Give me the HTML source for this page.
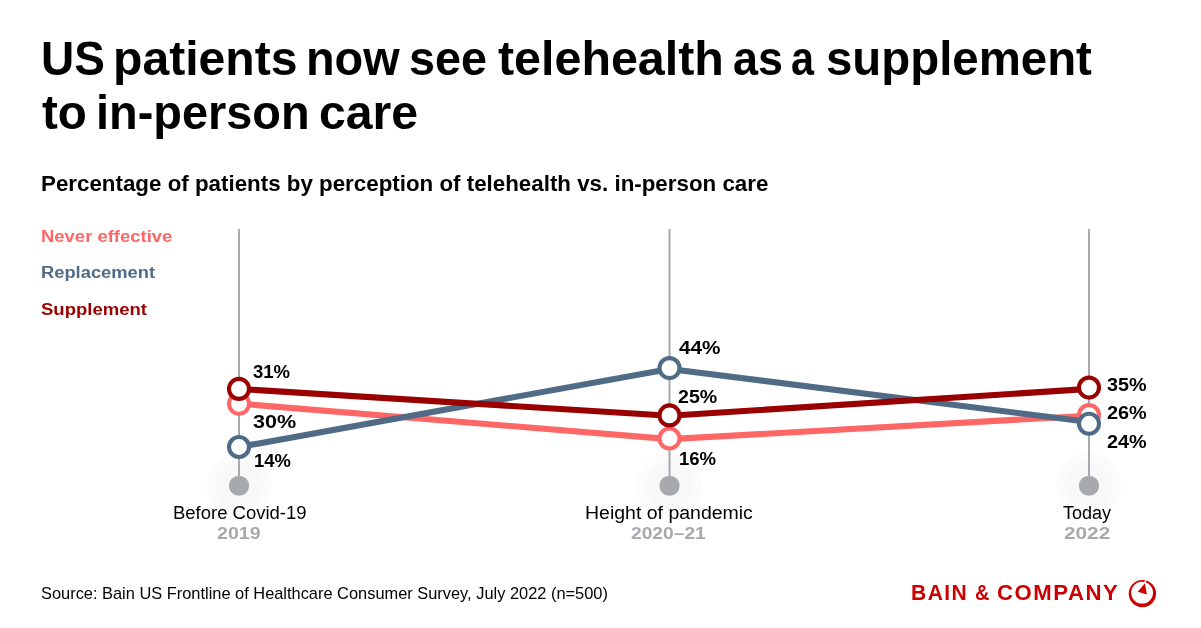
<!DOCTYPE html>
<html lang="en">
<head>
<meta charset="utf-8">
<title>US patients now see telehealth as a supplement to in-person care</title>
<style>
html,body{margin:0;padding:0;background:#fff;}
body{width:1201px;height:628px;position:relative;overflow:hidden;font-family:"Liberation Sans",Arial,sans-serif;color:#000;}
.t{position:absolute;white-space:nowrap;line-height:1;margin:0;transform-origin:0 0;}
.b{font-weight:bold;}
h1{margin:0;font-size:48px;font-weight:bold;}
.c1{color:#ff6666;} .c2{color:#4f6b86;} .c3{color:#990000;}
.yr{color:#a7a9ac;}
.lg{color:#cc0000;}
svg{position:absolute;left:0;top:0;}
</style>
</head>
<body>
<svg id="chart" width="1201" height="628" viewBox="0 0 1201 628">
  <g fill="#fbfbfb"><circle cx="239" cy="485.6" r="32.5"/><circle cx="669.5" cy="485.6" r="32.5"/><circle cx="1089" cy="485.6" r="32.5"/></g>
  <g fill="#f8f8f8"><circle cx="239" cy="485.6" r="24"/><circle cx="669.5" cy="485.6" r="24"/><circle cx="1089" cy="485.6" r="24"/></g>
  <g stroke="#a7a9ac" stroke-width="2"><line x1="239" y1="229" x2="239" y2="485"/><line x1="669.5" y1="229" x2="669.5" y2="485"/><line x1="1089" y1="229" x2="1089" y2="485"/></g>
  <g fill="#a7a9ac"><circle cx="239" cy="485.75" r="10.1"/><circle cx="669.5" cy="485.75" r="10.1"/><circle cx="1089" cy="485.75" r="10.1"/></g>
  <polyline fill="none" stroke="#ff6666" stroke-width="6.1" stroke-linejoin="round" points="239,403.6 669.5,439.1 1089,415.7"/>
  <g fill="#fff" stroke="#ff6666" stroke-width="4.1"><circle cx="239" cy="403.8" r="10"/><circle cx="669.5" cy="438.5" r="10"/><circle cx="1089" cy="415.1" r="10"/></g>
  <polyline fill="none" stroke="#4f6b86" stroke-width="6.1" stroke-linejoin="round" points="239,447 669.5,369.0 1089,422.0"/>
  <g fill="#fff" stroke="#4f6b86" stroke-width="4.1"><circle cx="239" cy="447" r="10"/><circle cx="669.5" cy="368.1" r="10"/><circle cx="1089" cy="423.8" r="10"/></g>
  <polyline fill="none" stroke="#990000" stroke-width="6.1" stroke-linejoin="round" points="239,388.9 669.5,415.8 1089,388.9"/>
  <g fill="#fff" stroke="#990000" stroke-width="4.1"><circle cx="239" cy="388.9" r="10"/><circle cx="669.5" cy="415.4" r="10"/><circle cx="1089" cy="387.6" r="10"/></g>
  <g id="mark">
    <path fill="#cc0000" fill-rule="evenodd" d="M1142.4 579.9a13.7 13.7 0 1 0 0 27.4a13.7 13.7 0 1 0 0-27.4z M1142.1 581.8a10.9 10.9 0 1 1 0 21.8a10.9 10.9 0 1 1 0-21.8z"/>
    <line x1="1145.9" y1="578.5" x2="1145.0" y2="583" stroke="#fff" stroke-width="1.3"/>
    <path fill="#cc0000" d="M1144.9 583.2L1137.7 591.7L1146.9 594.4Z"/>
  </g>
</svg>

<h1>
<span class="t b" id="t1a" style="left:41.13px;top:34.97px;font-size:48px;transform:scaleX(0.9581);">US</span>
<span class="t b" id="t1b" style="left:113.39px;top:34.97px;font-size:48px;transform:scaleX(1.0022);">patients</span>
<span class="t b" id="t1c" style="left:306.27px;top:34.97px;font-size:48px;transform:scaleX(0.9753);">now</span>
<span class="t b" id="t1d" style="left:409.25px;top:34.97px;font-size:48px;transform:scaleX(0.9727);">see</span>
<span class="t b" id="t1e" style="left:497.59px;top:34.97px;font-size:48px;transform:scaleX(1.0082);">telehealth</span>
<span class="t b" id="t1f" style="left:732.66px;top:34.97px;font-size:48px;transform:scaleX(0.936);">as</span>
<span class="t b" id="t1g" style="left:791.04px;top:34.97px;font-size:48px;transform:scaleX(0.8615);">a</span>
<span class="t b" id="t1h" style="left:825.83px;top:34.97px;font-size:48px;transform:scaleX(0.9869);">supplement</span>
<span class="t b" id="t2a" style="left:41.71px;top:88.97px;font-size:48px;transform:scaleX(0.9905);">to</span>
<span class="t b" id="t2b" style="left:96.37px;top:88.97px;font-size:48px;transform:scaleX(0.977);">in-person</span>
<span class="t b" id="t2c" style="left:319.39px;top:88.97px;font-size:48px;transform:scaleX(1.0032);">care</span>
</h1>
<div class="t b" id="sub" style="left:41.35px;top:173.77px;font-size:21.3px;transform:scaleX(1.0488);">Percentage of patients by perception of telehealth vs. in-person care</div>
<div class="t b c1" id="l1" style="left:41.24px;top:227.67px;font-size:17.4px;transform:scaleX(1.0615);">Never effective</div>
<div class="t b c2" id="l2" style="left:41.25px;top:263.97px;font-size:17.4px;transform:scaleX(1.0533);">Replacement</div>
<div class="t b c3" id="l3" style="left:41.24px;top:300.77px;font-size:17.4px;transform:scaleX(1.0643);">Supplement</div>
<div class="t b" id="v31" style="left:253.22px;top:362.22px;font-size:19px;transform:scaleX(0.9757);">31%</div>
<div class="t b" id="v30" style="left:253.06px;top:411.72px;font-size:19px;transform:scaleX(1.1351);">30%</div>
<div class="t b" id="v14" style="left:253.53px;top:451.12px;font-size:19px;transform:scaleX(0.9676);">14%</div>
<div class="t b" id="v44" style="left:678.7px;top:337.82px;font-size:19px;transform:scaleX(1.0921);">44%</div>
<div class="t b" id="v25" style="left:678.17px;top:387.02px;font-size:19px;transform:scaleX(1.0324);">25%</div>
<div class="t b" id="v16" style="left:678.62px;top:449.32px;font-size:19px;transform:scaleX(0.9757);">16%</div>
<div class="t b" id="v35" style="left:1107.16px;top:374.52px;font-size:19px;transform:scaleX(1.0432);">35%</div>
<div class="t b" id="v26" style="left:1106.85px;top:403.32px;font-size:19px;transform:scaleX(1.0459);">26%</div>
<div class="t b" id="v24" style="left:1107.16px;top:431.72px;font-size:19px;transform:scaleX(1.0432);">24%</div>
<div class="t" id="a1" style="left:172.65px;top:504.5px;font-size:17.6px;transform:scaleX(1.0504);">Before Covid-19</div>
<div class="t b yr" id="y1" style="left:217.07px;top:525.27px;font-size:17.4px;transform:scaleX(1.127);">2019</div>
<div class="t" id="a2" style="left:585.19px;top:504.5px;font-size:17.6px;transform:scaleX(1.1073);">Height of pandemic</div>
<div class="t b yr" id="y2" style="left:631.1px;top:525.47px;font-size:17.4px;transform:scaleX(1.1045);">2020–21</div>
<div class="t" id="a3" style="left:1063.4px;top:504.5px;font-size:17.6px;transform:scaleX(1.0255);">Today</div>
<div class="t b yr" id="y3" style="left:1063.81px;top:525.27px;font-size:17.4px;transform:scaleX(1.1946);">2022</div>
<div class="t" id="src" style="left:40.75px;top:584.62px;font-size:16.4px;transform:scaleX(1.0001);">Source: Bain US Frontline of Healthcare Consumer Survey, July 2022 (n=500)</div>
<div class="t b lg" id="lg1" style="left:910.52px;top:582.7px;font-size:21.5px;transform:scaleX(0.9773);letter-spacing:1.5px;">BAIN</div>
<div class="t b lg" id="lg2" style="left:974.77px;top:582.7px;font-size:21.5px;transform:scaleX(0.9286);">&amp;</div>
<div class="t b lg" id="lg3" style="left:996.87px;top:582.7px;font-size:21.5px;transform:scaleX(1.0302);letter-spacing:1.5px;">COMPANY</div>
</body>
</html>
